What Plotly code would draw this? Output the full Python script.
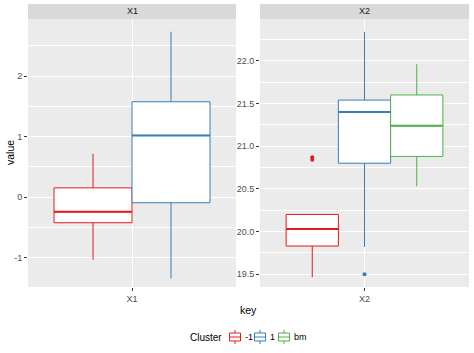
import plotly.graph_objects as go

# ---- data ----
clusters = ["-1", "1", "bm"]
cluster_colors = ["#E41A1C", "#377EB8", "#4DAF4A"]

# facet X1
x1_clusters = ["-1", "1"]
x1_lower = [-1.03, -1.34]
x1_q1 = [-0.42, -0.09]
x1_median = [-0.24, 1.02]
x1_q3 = [0.155, 1.575]
x1_upper = [0.72, 2.73]

# facet X2
x2_clusters = ["-1", "1", "bm"]
x2_lower = [19.465, 19.82, 20.53]
x2_q1 = [19.83, 20.80, 20.88]
x2_median = [20.03, 21.40, 21.24]
x2_q3 = [20.20, 21.54, 21.60]
x2_upper = [20.20, 22.34, 21.96]

x2_outlier_cluster = ["-1", "-1", "1"]
x2_outlier_value = [20.84, 20.87, 19.50]

facets = ["X1", "X2"]
y1_ticks = [-1, 0, 1, 2]
y1_ticklabels = ["-1", "0", "1", "2"]

color_of = dict(zip(clusters, cluster_colors))

fig = go.Figure()


def add_facet(ax, ay, cl, lo, q1, med, q3, up):
    n = len(cl)
    w = 0.9 / n
    for i, c in enumerate(cl):
        pos = 1 - 0.45 + w * (i + 0.5)
        col = color_of[c]
        fig.add_trace(go.Box(
            x=[pos], q1=[q1[i]], median=[med[i]], q3=[q3[i]],
            lowerfence=[lo[i]], upperfence=[up[i]], width=w,
            fillcolor="white", line=dict(color=col, width=1),
            whiskerwidth=0, boxpoints=False, name=c,
            showlegend=False, xaxis=ax, yaxis=ay, hoverinfo="skip"))
        fig.add_trace(go.Scatter(
            x=[pos - w / 2, pos + w / 2], y=[med[i], med[i]], mode="lines",
            line=dict(color=col, width=2), showlegend=False,
            xaxis=ax, yaxis=ay, hoverinfo="skip"))
    return w


add_facet("x", "y", x1_clusters, x1_lower, x1_q1, x1_median, x1_q3, x1_upper)
w2 = add_facet("x2", "y2", x2_clusters, x2_lower, x2_q1, x2_median, x2_q3, x2_upper)

# outliers in X2
for i, c in enumerate(x2_clusters):
    pos = 1 - 0.45 + w2 * (i + 0.5)
    ys = [v for cc, v in zip(x2_outlier_cluster, x2_outlier_value) if cc == c]
    if ys:
        fig.add_trace(go.Scatter(
            x=[pos] * len(ys), y=ys, mode="markers",
            marker=dict(color=color_of[c], size=4), showlegend=False,
            xaxis="x2", yaxis="y2", hoverinfo="skip"))

W, H = 474, 353
panel_top, panel_bot = 19, 287
strip_top = 4
ydom = [1 - panel_bot / H, 1 - panel_top / H]
x1dom = [28 / W, 236 / W]
x2dom = [260 / W, 469 / W]

FONT = "Liberation Sans, Arial, sans-serif"
tickfont = dict(family=FONT, size=9, color="#4D4D4D")
xcommon = dict(range=[0.4, 1.6], showgrid=True, gridcolor="white", gridwidth=1.1,
               ticks="outside", ticklen=3, tickcolor="#333333", tickfont=tickfont,
               zeroline=False, showline=False, fixedrange=True)
ycommon = dict(showgrid=True, gridcolor="white", gridwidth=1.1,
               ticks="outside", ticklen=3, tickcolor="#333333", tickfont=tickfont,
               zeroline=False, showline=False, fixedrange=True, domain=ydom)

fig.update_layout(
    width=W, height=H, margin=dict(l=0, r=0, t=0, b=0),
    paper_bgcolor="white", plot_bgcolor="#EBEBEB",
    font=dict(family=FONT, color="#1A1A1A"),
    showlegend=False,
    xaxis=dict(domain=x1dom, tickvals=[1], ticktext=[facets[0]], anchor="y", **xcommon),
    xaxis2=dict(domain=x2dom, tickvals=[1], ticktext=[facets[1]], anchor="y2", **xcommon),
    yaxis=dict(range=[-1.48, 2.94], tickvals=y1_ticks, ticktext=y1_ticklabels, anchor="x",
               minor=dict(tick0=0.5, dtick=1, showgrid=True, gridcolor="white", gridwidth=0.5),
               **ycommon),
    yaxis2=dict(range=[19.35, 22.49], tick0=19.5, dtick=0.5, tickformat=".1f", anchor="x2",
                minor=dict(tick0=19.75, dtick=0.5, showgrid=True, gridcolor="white", gridwidth=0.5),
                **ycommon),
)


def px(x):
    return x / W


def py(y):
    return 1 - y / H


# strips
for dom, lab in zip([x1dom, x2dom], facets):
    fig.add_shape(type="rect", xref="paper", yref="paper", x0=dom[0], x1=dom[1],
                  y0=py(panel_top), y1=py(strip_top),
                  fillcolor="#D9D9D9", line=dict(width=0), layer="below")
    fig.add_annotation(x=(dom[0] + dom[1]) / 2, y=py((panel_top + strip_top) / 2),
                       xref="paper", yref="paper", text=lab, showarrow=False,
                       xanchor="center", yanchor="middle",
                       font=dict(size=9, color="#1A1A1A"))

fig.add_annotation(x=(x1dom[0] + x2dom[1]) / 2, y=py(310), xref="paper", yref="paper",
                   text="key", showarrow=False, xanchor="center", yanchor="middle",
                   font=dict(size=10.5, color="black"))
fig.add_annotation(x=px(10), y=(ydom[0] + ydom[1]) / 2, xref="paper", yref="paper",
                   text="value", showarrow=False, textangle=-90,
                   xanchor="center", yanchor="middle",
                   font=dict(size=10.5, color="black"))

# manual ggplot-style legend
ly = 337
fig.add_annotation(x=px(224), y=py(ly), xref="paper", yref="paper", text="Cluster",
                   showarrow=False, xanchor="right", yanchor="middle",
                   font=dict(size=10, color="black"))
key_x = [228, 253, 277]
for kx, c in zip(key_x, clusters):
    col = color_of[c]
    fig.add_shape(type="line", xref="paper", yref="paper", x0=px(kx + 7), x1=px(kx + 7),
                  y0=py(ly - 7), y1=py(ly + 7), line=dict(color=col, width=1))
    fig.add_shape(type="rect", xref="paper", yref="paper", x0=px(kx + 1.5), x1=px(kx + 12.5),
                  y0=py(ly - 4), y1=py(ly + 4), fillcolor="white", line=dict(color=col, width=1))
    fig.add_shape(type="line", xref="paper", yref="paper", x0=px(kx + 1.5), x1=px(kx + 12.5),
                  y0=py(ly), y1=py(ly), line=dict(color=col, width=1))
    fig.add_annotation(x=px(kx + 15), y=py(ly), xref="paper", yref="paper", text=c,
                       showarrow=False, xanchor="left", yanchor="middle",
                       font=dict(size=9, color="black"))

fig.write_html("out.html")
